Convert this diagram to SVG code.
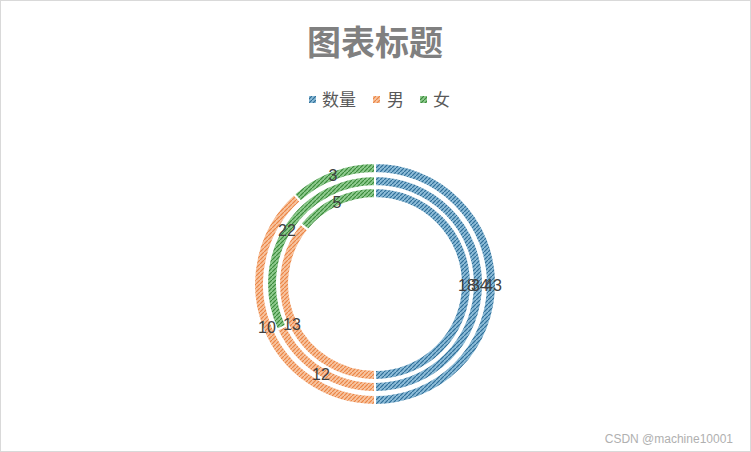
<svg xmlns="http://www.w3.org/2000/svg" width="751" height="452" viewBox="0 0 751 452">
<style>
.t{font-family:"Liberation Sans","Noto Sans CJK SC",sans-serif}
.lbl{font-family:"Liberation Sans",sans-serif;font-size:16px;fill:#404040;text-anchor:middle;dominant-baseline:central}
.seg{stroke:#fff;stroke-width:2}
.leg{font-family:"Noto Sans CJK SC",sans-serif;font-size:17px;fill:#595959}
</style>
<defs>
<pattern id="pb" patternUnits="userSpaceOnUse" width="4" height="4"><rect width="4" height="4" fill="#8dbcd8"/><path d="M-1,5 L5,-1" stroke="#2f6f98" stroke-width="1.2"/></pattern>
<pattern id="po" patternUnits="userSpaceOnUse" width="4" height="4"><rect width="4" height="4" fill="#f7c4a0"/><path d="M-1,5 L5,-1" stroke="#ec8544" stroke-width="1.2"/></pattern>
<pattern id="pg" patternUnits="userSpaceOnUse" width="4" height="4"><rect width="4" height="4" fill="#8fcb8f"/><path d="M-1,5 L5,-1" stroke="#3a8a3a" stroke-width="1.2"/></pattern>
</defs>
<rect x="0.5" y="0.5" width="750" height="451" fill="#fff" stroke="#d9d9d9"/>
<text class="t" x="375" y="55" text-anchor="middle" font-size="34" font-weight="bold" fill="#808080" font-family="Noto Sans CJK SC,sans-serif">图表标题</text>
<g id="legend">
<rect x="309" y="96" width="7" height="7" fill="url(#pb)"/><text class="leg" x="322" y="106">数量</text>
<rect x="373" y="96" width="7" height="7" fill="url(#po)"/><text class="leg" x="387" y="106">男</text>
<rect x="420" y="96" width="7" height="7" fill="url(#pg)"/><text class="leg" x="433" y="106">女</text>
</g>
<g id="outer">
<path class="seg" fill="url(#pb)" d="M375,163 A121,121 0 0 1 375,405 L375,395 A111,111 0 0 0 375,173 Z"/>
<path class="seg" fill="url(#po)" d="M375,405 A121,121 0 0 1 294.1,194.1 L300.7,201.5 A111,111 0 0 0 375,395 Z"/>
<path class="seg" fill="url(#pg)" d="M294.1,194.1 A121,121 0 0 1 375,163 L375,173 A111,111 0 0 0 300.7,201.5 Z"/>
</g>
<g id="middle">
<path class="seg" fill="url(#pb)" d="M375,176 A108,108 0 0 1 375,392 L375,382 A98,98 0 0 0 375,186 Z"/>
<path class="seg" fill="url(#po)" d="M375,392 A108,108 0 0 1 277.2,329.7 L286.2,325.5 A98,98 0 0 0 375,382 Z"/>
<path class="seg" fill="url(#pg)" d="M277.2,329.7 A108,108 0 0 1 375,176 L375,186 A98,98 0 0 0 286.2,325.5 Z"/>
</g>
<g id="inner">
<path class="seg" fill="url(#pb)" d="M375,188 A96,96 0 0 1 375,380 L375,370 A86,86 0 0 0 375,198 Z"/>
<path class="seg" fill="url(#po)" d="M375,380 A96,96 0 0 1 300.4,223.6 L308.2,229.9 A86,86 0 0 0 375,370 Z"/>
<path class="seg" fill="url(#pg)" d="M300.4,223.6 A96,96 0 0 1 375,188 L375,198 A86,86 0 0 0 308.2,229.9 Z"/>
</g>
<g id="labels">
<text class="lbl" x="467" y="285">18</text>
<text class="lbl" x="480" y="285">34</text>
<text class="lbl" x="493" y="285">43</text>
<text class="lbl" x="267" y="327">10</text>
<text class="lbl" x="321" y="374">12</text>
<text class="lbl" x="292" y="324">13</text>
<text class="lbl" x="287" y="230">22</text>
<text class="lbl" x="333" y="175">3</text>
<text class="lbl" x="337" y="202">5</text>
</g>
<text x="733" y="443" text-anchor="end" font-family="Liberation Sans,sans-serif" font-size="12" fill="#b0b0b0">CSDN @machine10001</text>
</svg>
